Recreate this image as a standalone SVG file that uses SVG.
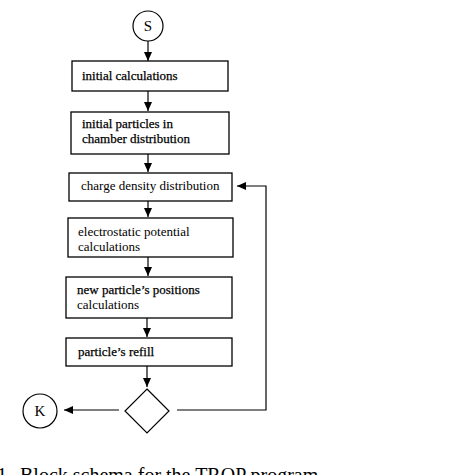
<svg xmlns="http://www.w3.org/2000/svg" width="474" height="475" viewBox="0 0 474 475">
<defs>
<marker id="ah" markerUnits="userSpaceOnUse" markerWidth="9" markerHeight="8" refX="9" refY="4" orient="auto">
<path d="M0,0 L9,4 L0,8 z" fill="#000"/>
</marker>
<style>
.box{fill:#fff;stroke:#000;stroke-width:1.3}
.t{font-family:"Liberation Serif","Times New Roman",serif;font-size:13px;fill:#000}
.hv{stroke:#000;stroke-width:0.25}
.big{font-size:15px}
.c{fill:none;stroke:#000;stroke-width:1.2;marker-end:url(#ah)}
.cap{font-family:"Liberation Serif","Times New Roman",serif;font-size:20px;fill:#000}
</style>
</defs>
<rect width="474" height="475" fill="#fff"/>
<g id="connectors">
<line class="c" x1="148" y1="41" x2="148" y2="61"/>
<line class="c" x1="148" y1="91" x2="148" y2="111"/>
<line class="c" x1="148" y1="154" x2="148" y2="172"/>
<line class="c" x1="148" y1="201" x2="148" y2="217"/>
<line class="c" x1="148" y1="257" x2="148" y2="276"/>
<line class="c" x1="147" y1="318" x2="147" y2="337"/>
<line class="c" x1="147" y1="366" x2="147" y2="387"/>
<line class="c" x1="119" y1="410" x2="64" y2="410"/>
<polyline class="c" points="177,410 266,410 266,186 237,186"/>
</g>
<g id="node-start">
<circle cx="148" cy="26" r="15" fill="#fff" stroke="#000" stroke-width="1.2"/>
<text class="t big" x="148" y="31" text-anchor="middle">S</text>
</g>
<g id="node-initial-calculations">
<rect class="box" x="72" y="61" width="156" height="30"/>
<text class="t hv" x="82" y="80">initial calculations</text>
</g>
<g id="node-initial-particles">
<rect class="box" x="71" y="112" width="158" height="42"/>
<text class="t hv" x="82" y="128">initial particles in</text>
<text class="t hv" x="82" y="143">chamber distribution</text>
</g>
<g id="node-charge-density">
<rect class="box" x="69" y="173" width="163" height="28"/>
<text class="t" x="81" y="190">charge density distribution</text>
</g>
<g id="node-electrostatic">
<rect class="box" x="68" y="218" width="165" height="39"/>
<text class="t" x="78" y="236">electrostatic potential</text>
<text class="t" x="78" y="251">calculations</text>
</g>
<g id="node-new-positions">
<rect class="box" x="66" y="277" width="166" height="41"/>
<text class="t hv" x="77" y="294">new particle’s positions</text>
<text class="t" x="77" y="309">calculations</text>
</g>
<g id="node-refill">
<rect class="box" x="66" y="338" width="166" height="28"/>
<text class="t hv" x="78" y="356">particle’s refill</text>
</g>
<g id="node-decision">
<polygon points="147,389 169,411 147,433 125,411" fill="#fff" stroke="#000" stroke-width="1.2"/>
</g>
<g id="node-end">
<circle cx="40" cy="411" r="17" fill="#fff" stroke="#000" stroke-width="1.2"/>
<text class="t big" x="40" y="416" text-anchor="middle">K</text>
</g>
<g id="caption">
<text class="cap" x="-3" y="482">1</text>
<text class="cap" x="20" y="482">Block schema for the TROP program</text>
</g>
</svg>
